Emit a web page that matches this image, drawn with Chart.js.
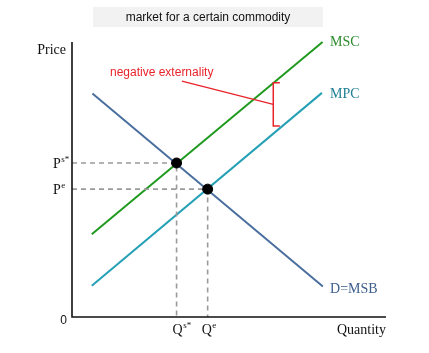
<!DOCTYPE html>
<html><head><meta charset="utf-8">
<script src="https://cdn.jsdelivr.net/npm/chart.js@4.4.0/dist/chart.umd.min.js"></script>
<style>html,body{margin:0;padding:0;background:#fff}#wrap{width:429px;height:353px}</style>
</head><body><div id="wrap"><canvas id="c" width="429" height="353"></canvas></div>
<script>
// Data (Quantity on x, Price on y)
const demandMSB = [{x:0.65,y:8.13},{x:7.99,y:1.11}];
const supplyMSC = [{x:0.63,y:3.01},{x:7.98,y:10.0}];
const supplyMPC = [{x:0.63,y:1.14},{x:7.96,y:8.15}];
const socialEq = {q:3.33, p:5.60};
const marketEq = {q:4.32, p:4.65};
const curveLabels = [
  {text:'MSC', x:8.22, y:10.0, color:'#2e8b2e'},
  {text:'MPC', x:8.22, y:8.1, color:'#1f7f94'},
  {text:'D=MSB', x:8.22, y:1.02, color:'#3d5f8c'}
];
const bracket = [{x:6.62,y:8.52},{x:6.41,y:8.52},{x:6.41,y:6.95},{x:6.62,y:6.95}];
const pointer = [{x:3.5,y:8.58},{x:6.41,y:7.73}];
const annotText = {text:'negative externality', x:1.21, y:8.9};
const titleText = 'market for a certain commodity';

const dashStyle = {borderColor:'#9a9a9a', borderWidth:1.6, borderDash:[5,4], pointRadius:0, showLine:true, fill:false};
const lineStyle = (c)=>({borderColor:c, borderWidth:2, pointRadius:0, showLine:true, fill:false});

function sup(ctx, base, s, x, y, size){
  ctx.font = size+'px "Liberation Serif", serif';
  ctx.textAlign='left'; ctx.textBaseline='middle';
  ctx.fillText(base, x, y);
  const w = ctx.measureText(base).width;
  ctx.font = Math.round(size*0.62)+'px "Liberation Serif", serif';
  ctx.fillText(s, x+w+0.5, y-4);
  return w + ctx.measureText(s).width;
}

const textPlugin = {
  id:'texts',
  beforeDraw(chart){
    const ctx = chart.ctx;
    ctx.save();
    ctx.fillStyle='#f2f2f2';
    ctx.fillRect(93,7,230,20);
    ctx.fillStyle='#111';
    ctx.font='12px "Liberation Sans", Arial, sans-serif';
    ctx.textAlign='center'; ctx.textBaseline='middle';
    ctx.fillText(titleText, 208, 17.5);
    ctx.restore();
  },
  afterDraw(chart){
    const ctx = chart.ctx, xs = chart.scales.x, ys = chart.scales.y, a = chart.chartArea;
    ctx.save();
    // axes
    ctx.strokeStyle='#111'; ctx.lineWidth=1.6;
    ctx.beginPath(); ctx.moveTo(a.left, a.top); ctx.lineTo(a.left, a.bottom); ctx.lineTo(a.right, a.bottom); ctx.stroke();
    ctx.fillStyle='#111';
    ctx.font='14px "Liberation Serif", serif';
    ctx.textAlign='right'; ctx.textBaseline='middle';
    ctx.fillText('Price', a.left-6, 50);
    ctx.textAlign='right';
    ctx.fillText('Quantity', a.right, 330);
    ctx.font='12px "Liberation Sans", Arial, sans-serif';
    ctx.textAlign='right';
    ctx.fillText('0', a.left-5, 321);
    // price / quantity tick labels
    sup(ctx,'P','s*', a.left-19, ys.getPixelForValue(socialEq.p)+1, 14);
    sup(ctx,'P','e', a.left-19, ys.getPixelForValue(marketEq.p)+1, 14);
    sup(ctx,'Q','s*', xs.getPixelForValue(socialEq.q)-4, 330, 14);
    sup(ctx,'Q','e', xs.getPixelForValue(marketEq.q)-6, 330, 14);
    // curve labels
    ctx.font='14px "Liberation Serif", serif';
    ctx.textAlign='left'; ctx.textBaseline='middle';
    curveLabels.forEach(l=>{ctx.fillStyle=l.color; ctx.fillText(l.text, xs.getPixelForValue(l.x), ys.getPixelForValue(l.y));});
    ctx.fillStyle='#e8242b';
    ctx.font='12px "Liberation Sans", Arial, sans-serif';
    ctx.fillText(annotText.text, xs.getPixelForValue(annotText.x), ys.getPixelForValue(annotText.y));
    ctx.restore();
  }
};

new Chart(document.getElementById('c'), {
  type:'scatter',
  data:{datasets:[
    {data:[{x:socialEq.q,y:socialEq.p},{x:marketEq.q,y:marketEq.p}], pointRadius:5, pointBackgroundColor:'#000', pointBorderColor:'#000', showLine:false},
    Object.assign({data:[{x:0,y:socialEq.p},{x:socialEq.q,y:socialEq.p},{x:socialEq.q,y:0}]}, dashStyle),
    Object.assign({data:[{x:0,y:marketEq.p},{x:marketEq.q,y:marketEq.p},{x:marketEq.q,y:0}]}, dashStyle),
    Object.assign({data:bracket}, lineStyle('#e8242b'), {borderWidth:1.5}),
    Object.assign({data:pointer}, lineStyle('#e8242b'), {borderWidth:1.3}),
    Object.assign({data:demandMSB}, lineStyle('#4a6f9e')),
    Object.assign({data:supplyMSC}, lineStyle('#1f9a1f')),
    Object.assign({data:supplyMPC}, lineStyle('#25a0b5'))
  ]},
  options:{
    responsive:false, animation:false, clip:false,
    layout:{padding:{left:72, right:43, top:42, bottom:36}},
    plugins:{legend:{display:false}, tooltip:{enabled:false}, title:{display:false}},
    scales:{
      x:{type:'linear', min:0, max:10, display:false},
      y:{type:'linear', min:0, max:10, display:false}
    }
  },
  plugins:[textPlugin]
});
</script></body></html>
